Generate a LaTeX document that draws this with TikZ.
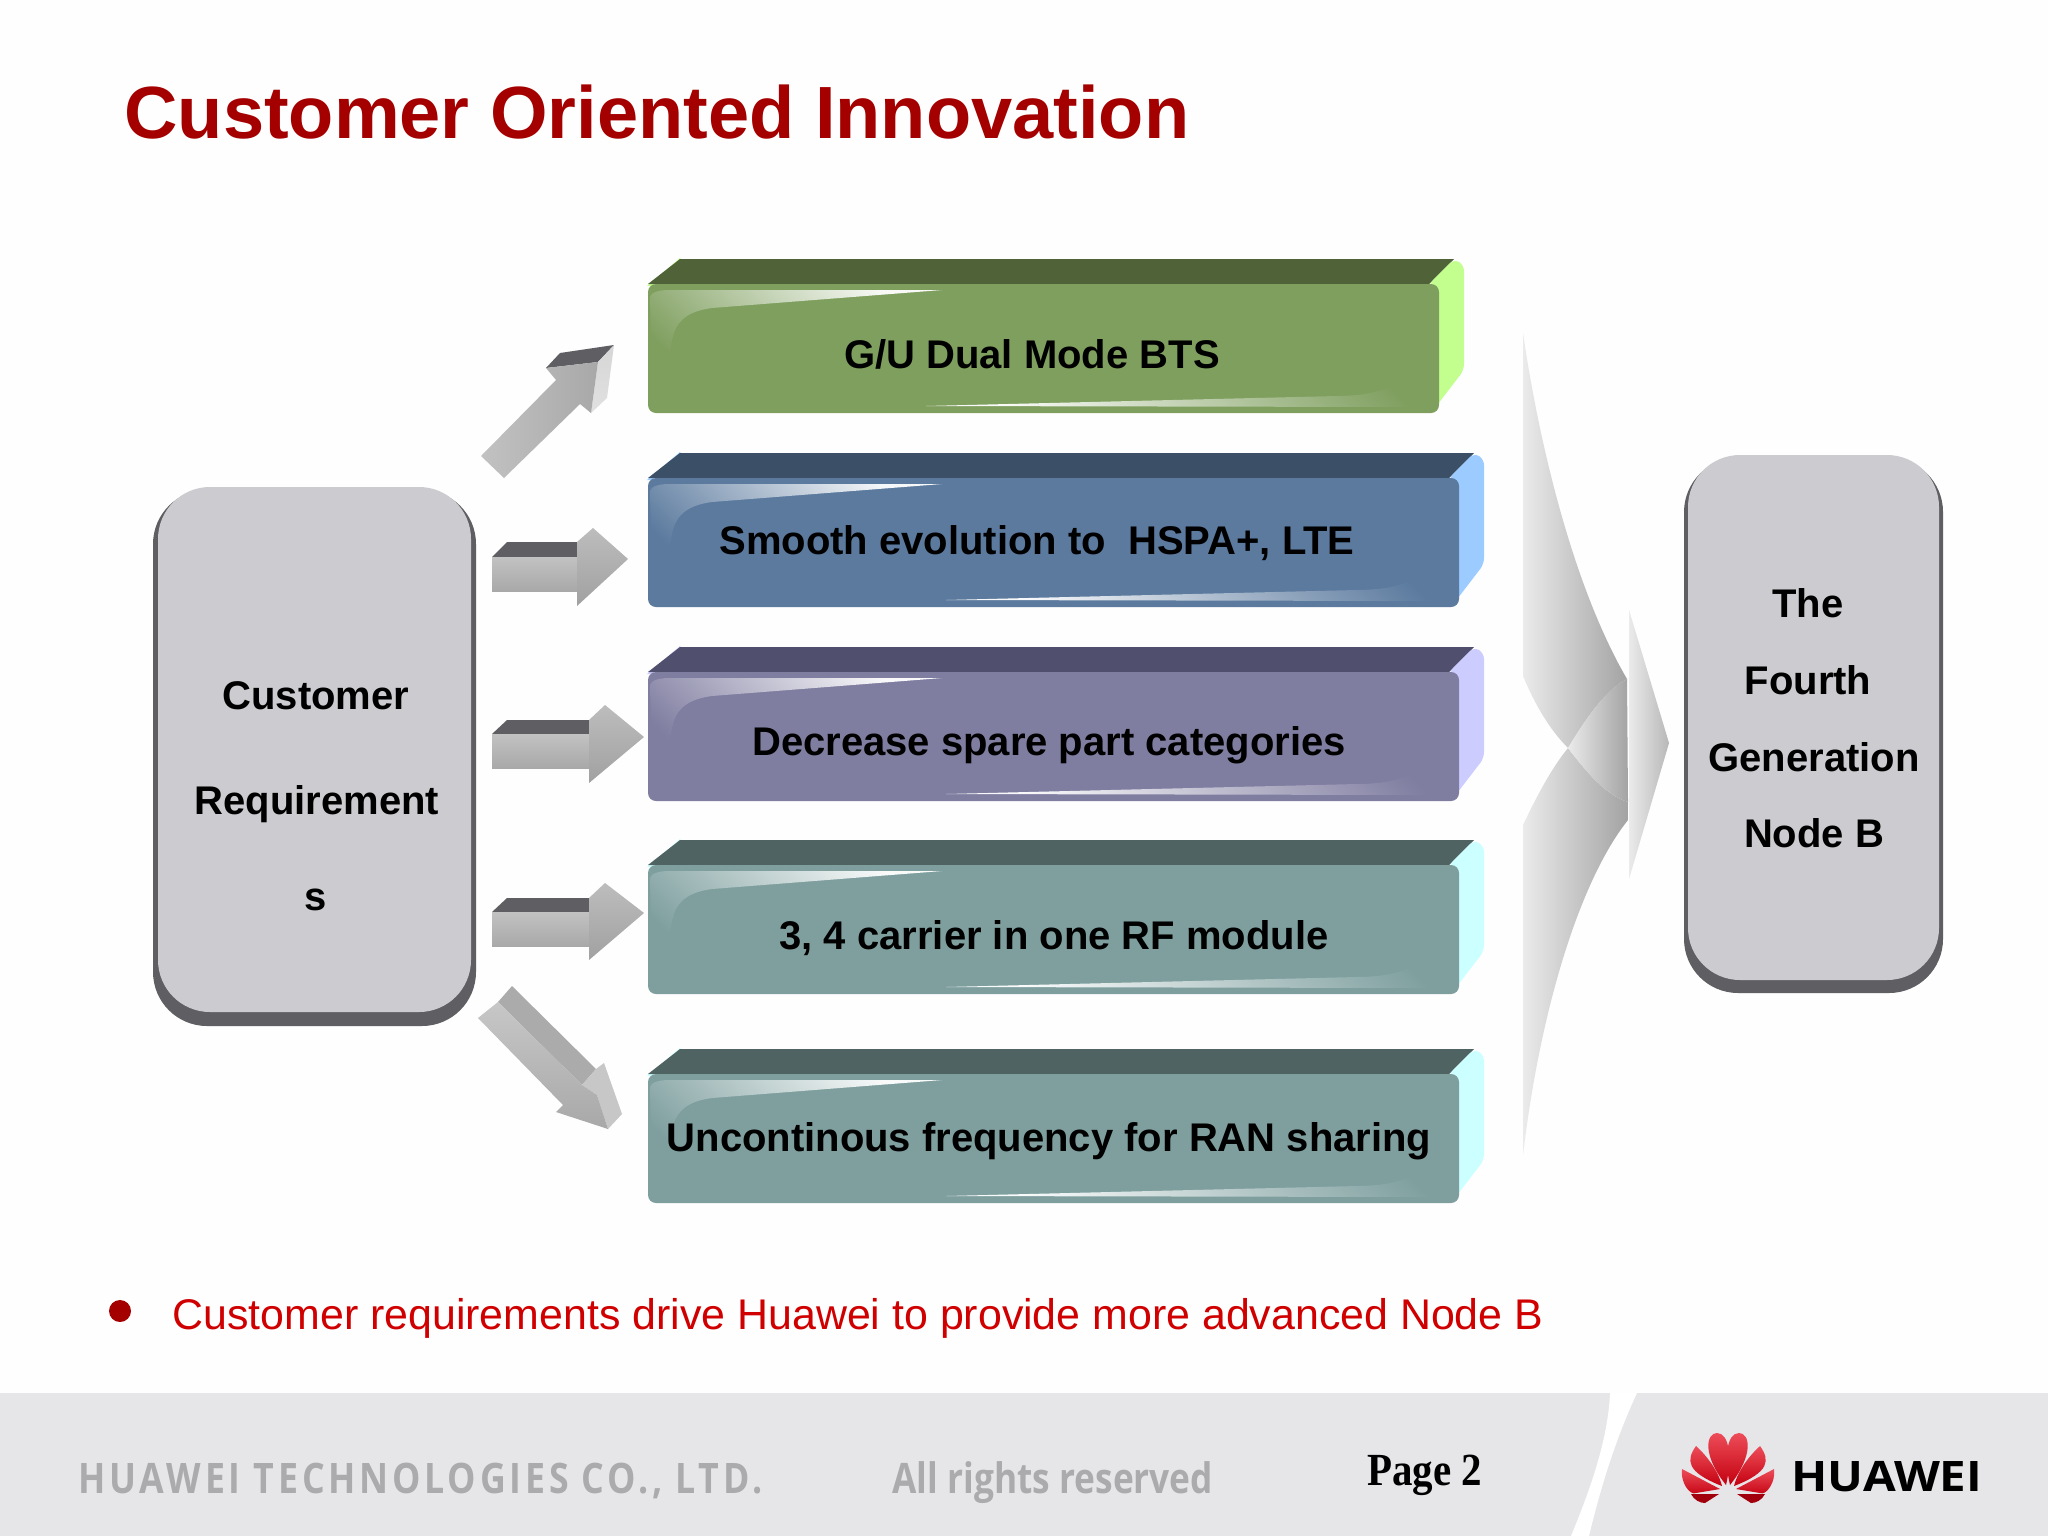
\documentclass[tikz,border=0pt]{standalone}
\usepackage{fontspec}
\setmainfont{Liberation Sans}
\newfontfamily\companyfont[FakeStretch=0.85,LetterSpace=9]{Open Sans}
\newfontfamily\rightsfont[FakeStretch=0.84]{Open Sans}
\newfontfamily\pagefont[FakeStretch=0.89]{Liberation Serif}
\newfontfamily\logofont[FakeStretch=1.13]{Open Sans}
\usetikzlibrary{positioning}
\definecolor{titlered}{HTML}{A50000}
\definecolor{bulletred}{HTML}{D00000}
\definecolor{bandgray}{HTML}{E6E5E8}
\definecolor{boxgray}{HTML}{CCCBCF}
\definecolor{boxdark}{HTML}{5F5E62}
\definecolor{footgray}{HTML}{ABABAE}
\definecolor{huaweired}{HTML}{E60012}
\tikzset{
  boxlabel/.style={font=\fontsize{20}{20}\selectfont\bfseries, anchor=base, inner sep=0pt},
  arrowdark/.style={fill=boxdark},
  shaftface/.style={top color=black!24, bottom color=black!34},
  headface/.style={top color=black!26, bottom color=black!37},
  bladeface/.style={left color=black!8, right color=black!36},
  petal/.style={top color=huaweired!70!white, bottom color=huaweired!85!black}
}
\begin{document}
\begin{tikzpicture}[x=0.5pt, y=-0.5pt]
  \useasboundingbox (0, 0) rectangle (2048, 1536);
  \fill [black!0.5] (0, 0) rectangle (2048, 1536);
  % footer band with the white slash
  \fill [bandgray] (0, 1393) rectangle (2048, 1536);
  \fill [white] (1610, 1393) .. controls (1608, 1440) and (1590, 1490) .. (1571, 1536)
                -- (1589, 1536) .. controls (1600, 1490) and (1615, 1440) .. (1637, 1393) -- cycle;
  \node (title) [anchor=base west, inner sep=0pt, text=titlered, font=\fontsize{37}{37}\selectfont\bfseries]
    at (124, 139) {Customer Oriented Innovation};
  % the five bars
  \foreach \bar/\ytop/\xr/\cfront/\ctop/\cside/\xt/\yt/\txt in {
      gu/259/1439/7F9F5F/4F6238/C3FF8F/1032/368/{G/U Dual Mode BTS},
      hspa/453/1459/5B7A9E/3B4F66/9CCBFF/1037/554/{Smooth evolution to\ \ HSPA+, LTE},
      spare/647/1459/7F7DA0/514F6E/CCCCFF/1049/755/{Decrease spare part categories},
      carrier/840/1459/7F9F9F/4F6363/CCFFFF/1054/949/{3, 4 carrier in one RF module},
      ran/1049/1459/7F9F9F/4F6363/CCFFFF/1049/1151/{Uncontinous frequency for RAN sharing}} {
    \definecolor{cf}{HTML}{\cfront}
    \definecolor{ct}{HTML}{\ctop}
    \definecolor{cs}{HTML}{\cside}
    \fill [cs] (647, \ytop+27) -- (680, \ytop-1) -- (682, \ytop+2) -- (652, \ytop+27) -- cycle;
    \fill [ct] (648, \ytop+25) -- (680, \ytop) -- (\xr+15, \ytop) -- (\xr-10, \ytop+25) -- cycle;
    \fill [cs, rounded corners=3pt] (\xr-10, \ytop+25) -- (\xr+15, \ytop) -- (\xr+25, \ytop+6)
          -- (\xr+25, \ytop+111) -- (\xr-8, \ytop+154) -- cycle;
    \fill [cf, rounded corners=4pt] (648, \ytop+25) rectangle (\xr, \ytop+154);
    \shade [left color=white!95!cf, middle color=white!30!cf, right color=cf, shading angle=-45]
          (650, \ytop+38) .. controls (651, \ytop+33) and (660, \ytop+31) .. (669, \ytop+31) -- (942, \ytop+31)
          -- (712, \ytop+49) .. controls (690, \ytop+52) and (676, \ytop+60) .. (672, \ytop+81)
          -- (666, \ytop+114) -- (652, \ytop+134) -- cycle;
    \shade [left color=cf, middle color=white!30!cf, right color=white!95!cf, shading angle=-45]
          (\xr-513, \ytop+147) -- (\xr-45, \ytop+148) .. controls (\xr-30, \ytop+148) and (\xr-10, \ytop+147) .. (\xr-10, \ytop+140)
          -- (\xr-10, \ytop+82) .. controls (\xr-25, \ytop+88) and (\xr-32, \ytop+100) .. (\xr-36, \ytop+115)
          .. controls (\xr-42, \ytop+130) and (\xr-70, \ytop+137) .. (\xr-102, \ytop+137) -- cycle;
    \node (\bar) [boxlabel] at (\xt, \yt) {\txt};
  }
  % left box
  \fill [boxdark, rounded corners=27pt] (153, 490) rectangle (476, 1026);
  \fill [boxgray, rounded corners=26pt] (158, 487) rectangle (471, 1012);
  \node (cust) [boxlabel] at (316, 709) {Customer};
  \node (req)  [boxlabel] at (317, 814) {Requirement};
  \node (reqs) [boxlabel] at (316, 910) {s};
  % right box
  \fill [boxdark, rounded corners=27pt] (1684, 458) rectangle (1943, 993);
  \fill [boxgray, rounded corners=26pt] (1688, 455) rectangle (1939, 980);
  \node (the)  [boxlabel] at (1808, 617) {The};
  \node (four) [boxlabel] at (1808, 694) {Fourth};
  \node (gen)  [boxlabel] at (1814, 771) {Generation};
  \node (nodeb) [boxlabel] at (1814, 847) {Node B};
  % straight arrows
  \foreach \ya/\yb/\yc/\yd/\ye/\yf/\xh/\xtip in {
      528/542/557/591/606/559/577/628,
      705/720/734/768/783/737/589/644,
      883/898/912/946/960/913/589/644} {
    \fill [arrowdark] (492, \yc) -- (507, \yb) -- (\xh, \yb) -- (\xh, \yc) -- cycle;
    \shade [shaftface] (492, \yc) rectangle (\xh+1, \yd);
    \shade [headface] (\xh, \yb) -- (\xh+16, \ya) -- (\xtip, \yf) -- (\xh, \ye) -- cycle;
  }
  % slanted arrow up
  \fill [arrowdark] (546, 368) -- (560, 353) -- (614, 345) -- (598, 362) -- cycle;
  \shade [top color=black!16, bottom color=black!12] (598, 362) -- (614, 345) -- (607, 398) -- (591, 413) -- cycle;
  \shade [left color=black!24, right color=black!34]
        (481, 456) -- (504, 478) -- (580, 404) -- (591, 413) -- (598, 362) -- (546, 368) -- (556, 380) -- cycle;
  % slanted arrow down
  \fill [black!33] (512, 986) -- (596, 1069) -- (582, 1085) -- (498, 1002) -- cycle;
  \fill [black!22] (582, 1085) -- (596, 1069) -- (604, 1063) -- (622, 1114) -- (608, 1129) -- (597, 1095) -- cycle;
  \shade [top color=black!22, bottom color=black!34]
        (478, 1018) -- (498, 1002) -- (582, 1085) -- (597, 1095) -- (608, 1129) -- (556, 1112) -- (563, 1105) -- cycle;
  % merging arrow
  \shade [bladeface] (1523, 333) .. controls (1540, 450) and (1575, 590) .. (1627, 679)
        .. controls (1605, 690) and (1585, 720) .. (1568, 748)
        .. controls (1550, 730) and (1535, 705) .. (1523, 676) -- cycle;
  \shade [bladeface] (1523, 1155) .. controls (1540, 1010) and (1580, 880) .. (1628, 820)
        -- (1628, 802) .. controls (1605, 795) and (1585, 770) .. (1568, 748)
        .. controls (1550, 770) and (1535, 800) .. (1523, 825) -- cycle;
  \shade [bladeface] (1568, 748) .. controls (1585, 720) and (1605, 690) .. (1627, 679)
        -- (1628, 802) .. controls (1605, 795) and (1585, 770) .. (1568, 748) -- cycle;
  \shade [left color=black!8, right color=black!28] (1629, 610) -- (1669, 743) -- (1629, 879) -- cycle;
  % bullet line
  \fill [titlered] (120, 1311) circle [radius=11];
  \node (drive) [anchor=base west, inner sep=0pt, text=bulletred, font=\fontsize{21.45}{21.45}\selectfont]
    at (172, 1329) {Customer requirements drive Huawei to provide more advanced Node B};
  % footer texts
  \node (company) [anchor=base west, inner sep=0pt, text=footgray, font=\companyfont\fontsize{21}{21}\selectfont\bfseries]
    at (78, 1493) {HUAWEI TECHNOLOGIES CO., LTD.};
  \node (rights) [anchor=base west, inner sep=0pt, text=footgray, font=\rightsfont\fontsize{21}{21}\selectfont\bfseries]
    at (892, 1493) {All rights reserved};
  \node (page) [anchor=base west, inner sep=0pt, font=\pagefont\fontsize{23}{23}\selectfont\bfseries]
    at (1367, 1485) {Page 2};
  % logo
  \foreach \s in {1, -1} {
    \begin{scope}[shift={(1728, 0)}, xscale=\s]
      \shade [petal] (2, 1485) .. controls (-4, 1460) and (-2, 1433) .. (11, 1433)
            .. controls (22, 1433) and (26, 1455) .. (2, 1485) -- cycle;
      \shade [petal] (6, 1486) .. controls (10, 1470) and (22, 1455) .. (32, 1446)
            .. controls (42, 1460) and (42, 1472) .. (6, 1486) -- cycle;
      \shade [petal] (8, 1489) -- (46, 1469) .. controls (48, 1482) and (38, 1496) .. (32, 1493) -- cycle;
      \fill [huaweired!70!black] (9, 1494) -- (37, 1494) .. controls (34, 1500) and (28, 1503) .. (23, 1503) -- cycle;
    \end{scope}
  }
  \node (logo) [anchor=base west, inner sep=0pt, font=\logofont\fontsize{21}{21}\selectfont\bfseries]
    at (1791, 1491) {HUAWEI};
\end{tikzpicture}
\end{document}
